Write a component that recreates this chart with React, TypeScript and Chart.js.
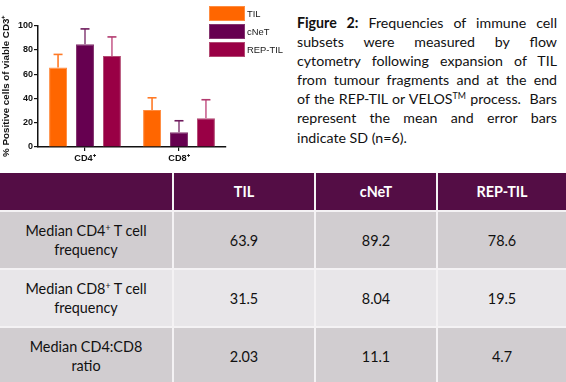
import React, { useEffect, useRef } from "react";
import { Chart, registerables } from "chart.js";

Chart.register(...registerables);

// ---------- data ----------
const categories = ["CD4\u207A", "CD8\u207A"];
const seriesNames = ["TIL", "cNeT", "REP-TIL"];
const tilMean = [65.5, 30.4];
const tilSD = [10.7, 10.1];
const cnetMean = [84.6, 12.1];
const cnetSD = [12.6, 9.5];
const repMean = [74.8, 23.6];
const repSD = [15.8, 15.3];
const yAxisTitle = "% Positive cells of viable CD3\u207A";

const tableColumns = ["TIL", "cNeT", "REP-TIL"];
const rowLabelsLine1 = ["Median CD4", "Median CD8", "Median CD4:CD8"];
const rowLabelsSup = ["+", "+", ""];
const rowLabelsRest = [" T cell", " T cell", ""];
const rowLabelsLine2 = ["frequency", "frequency", "ratio"];
const medianCD4 = ["63.9", "89.2", "78.6"];
const medianCD8 = ["31.5", "8.04", "19.5"];
const medianRatio = ["2.03", "11.1", "4.7"];
const tableRows = [medianCD4, medianCD8, medianRatio];

// ---------- styles ----------
const barColors = ["#FF6600", "#660050", "#990045"];
const barBorders = ["#FF8C40", "#84346F", "#B24A72"];
const stemColors = ["#FF7A26", "#8E4C80", "#C8628F"];
const capColors = ["#FF7A26", "#6E1A5C", "#B23A6E"];
const CHART_FONT = "'Liberation Sans', Arial, sans-serif";
const TEXT_FONT = "Lato, 'Open Sans', sans-serif";

const errorBarPlugin = {
  id: "errorBars",
  afterDatasetsDraw(chart: any) {
    const ctx = chart.ctx;
    const y = chart.scales.y;
    chart.data.datasets.forEach((ds: any, i: number) => {
      const meta = chart.getDatasetMeta(i);
      meta.data.forEach((el: any, j: number) => {
        const top = y.getPixelForValue(ds.data[j] + ds.sd[j]);
        const x = el.x;
        const half = el.width / 4;
        ctx.save();
        ctx.lineWidth = 1.6;
        ctx.strokeStyle = stemColors[i];
        ctx.beginPath();
        ctx.moveTo(x, el.y);
        ctx.lineTo(x, top);
        ctx.stroke();
        ctx.strokeStyle = capColors[i];
        ctx.beginPath();
        ctx.moveTo(x - half, top);
        ctx.lineTo(x + half, top);
        ctx.stroke();
        ctx.restore();
      });
    });
  },
};

const legendPlugin = {
  id: "boxLegend",
  afterDraw(chart: any) {
    const ctx = chart.ctx;
    chart.data.datasets.forEach((ds: any, i: number) => {
      const bx = 209;
      const by = 6 + i * 18;
      ctx.save();
      ctx.fillStyle = ds.backgroundColor;
      ctx.fillRect(bx, by, 36, 15);
      ctx.strokeStyle = ds.borderColor;
      ctx.lineWidth = 1;
      ctx.strokeRect(bx + 0.5, by + 0.5, 35, 14);
      ctx.fillStyle = "#1a1a1a";
      ctx.font = `9.4px ${CHART_FONT}`;
      ctx.textBaseline = "middle";
      ctx.textAlign = "left";
      ctx.fillText(ds.label, 247, by + 8);
      ctx.restore();
    });
  },
};

function BarChart() {
  const ref = useRef<HTMLCanvasElement | null>(null);
  useEffect(() => {
    if (!ref.current) return;
    const means = [tilMean, cnetMean, repMean];
    const sds = [tilSD, cnetSD, repSD];
    const chart = new Chart(ref.current, {
      type: "bar",
      data: {
        labels: categories,
        datasets: seriesNames.map((name, i) => ({
          label: name,
          data: means[i],
          sd: sds[i],
          backgroundColor: barColors[i],
          borderColor: barBorders[i],
          borderWidth: 1,
          categoryPercentage: 0.86,
          barPercentage: 0.667,
        })) as any,
      },
      options: {
        animation: false,
        responsive: false,
        devicePixelRatio: 1,
        layout: { padding: { top: 25.5, right: 64, left: 0, bottom: 0 } },
        plugins: {
          legend: { display: false },
          tooltip: { enabled: false },
        },
        scales: {
          x: {
            afterFit: (s: any) => {
              s.height = 23;
            },
            grid: {
              offset: false,
              drawOnChartArea: false,
              drawTicks: true,
              tickLength: 4,
              color: "#111",
              lineWidth: 1.2,
            },
            border: { color: "#111", width: 1.5 },
            ticks: {
              color: "#111",
              padding: 2,
              font: { family: CHART_FONT, size: 9.2, weight: "bold" },
            },
          },
          y: {
            min: 0,
            max: 100,
            afterFit: (s: any) => {
              s.width = 38;
            },
            grid: {
              drawOnChartArea: false,
              drawTicks: true,
              tickLength: 4,
              color: "#111",
              lineWidth: 1.2,
            },
            border: { color: "#111", width: 1.5 },
            ticks: {
              stepSize: 20,
              color: "#111",
              padding: 1,
              font: { family: CHART_FONT, size: 9, weight: "bold" },
            },
            title: {
              display: true,
              text: yAxisTitle,
              color: "#111",
              padding: { top: 0.5, bottom: 0 },
              font: { family: CHART_FONT, size: 9.8, weight: "bold" },
            },
          },
        },
      } as any,
      plugins: [errorBarPlugin, legendPlugin],
    });
    return () => chart.destroy();
  }, []);
  return (
    <canvas
      ref={ref}
      width={290}
      height={170}
      style={{ position: "absolute", left: 0, top: 0, width: 290, height: 170 }}
    />
  );
}

const captionLines: React.ReactNode[] = [
  <>
    <b>Figure 2:</b> Frequencies of immune cell
  </>,
  <>subsets were measured by flow</>,
  <>cytometry following expansion of TIL</>,
  <>from tumour fragments and at the end</>,
  <>
    of the REP-TIL or VELOS<sup style={{ fontSize: "0.62em", verticalAlign: "0.55em", lineHeight: 0 }}>TM</sup> process.&nbsp; Bars
  </>,
  <>represent the mean and error bars</>,
  <>indicate SD (n=6).</>,
];

export default function App() {
  const gridCols = "172px 140px 120px 128px";
  const rowBg = ["#D1CDD0", "#E8E6E9", "#D1CDD0"];
  return (
    <div
      style={{
        position: "fixed",
        left: 0,
        top: 0,
        width: 566,
        height: 382,
        background: "#fff",
        overflow: "hidden",
      }}
    >
      <BarChart />
      <div
        style={{
          position: "absolute",
          left: 297,
          top: 12.5,
          width: 260,
          fontFamily: TEXT_FONT,
          fontSize: 14.2,
          lineHeight: "19.2px",
          color: "#111",
        }}
      >
        {captionLines.map((ln, i) => (
          <div
            key={i}
            style={{
              textAlign: i === captionLines.length - 1 ? "left" : "justify",
              textAlignLast: i === captionLines.length - 1 ? "left" : "justify",
              whiteSpace: "nowrap",
              height: 19.2,
            }}
          >
            {ln}
          </div>
        ))}
      </div>
      <div
        style={{
          position: "absolute",
          left: 0,
          top: 173,
          width: 566,
          display: "grid",
          gridTemplateColumns: gridCols,
          gridTemplateRows: "37px 56px 56px 56px",
          gap: 2,
          background: "#F4F2F4",
          fontFamily: TEXT_FONT,
          fontSize: 14.4,
          color: "#111",
        }}
      >
        <div style={{ background: "#540D45" }} />
        {tableColumns.map((c) => (
          <div
            key={c}
            style={{
              background: "#540D45",
              color: "#fff",
              fontWeight: 700,
              display: "flex",
              alignItems: "center",
              justifyContent: "center",
            }}
          >
            {c}
          </div>
        ))}
        {tableRows.map((vals, r) => (
          <React.Fragment key={r}>
            <div
              style={{
                background: rowBg[r],
                display: "flex",
                flexDirection: "column",
                alignItems: "center",
                justifyContent: "center",
                lineHeight: "19px",
                textAlign: "center",
              }}
            >
              <div>
                {rowLabelsLine1[r]}
                {rowLabelsSup[r] && (
                  <sup style={{ fontSize: "0.6em", verticalAlign: "0.6em", lineHeight: 0 }}>
                    {rowLabelsSup[r]}
                  </sup>
                )}
                {rowLabelsRest[r]}
              </div>
              <div>{rowLabelsLine2[r]}</div>
            </div>
            {vals.map((v, k) => (
              <div
                key={k}
                style={{
                  background: rowBg[r],
                  display: "flex",
                  alignItems: "center",
                  justifyContent: "center",
                }}
              >
                {v}
              </div>
            ))}
          </React.Fragment>
        ))}
      </div>
    </div>
  );
}
